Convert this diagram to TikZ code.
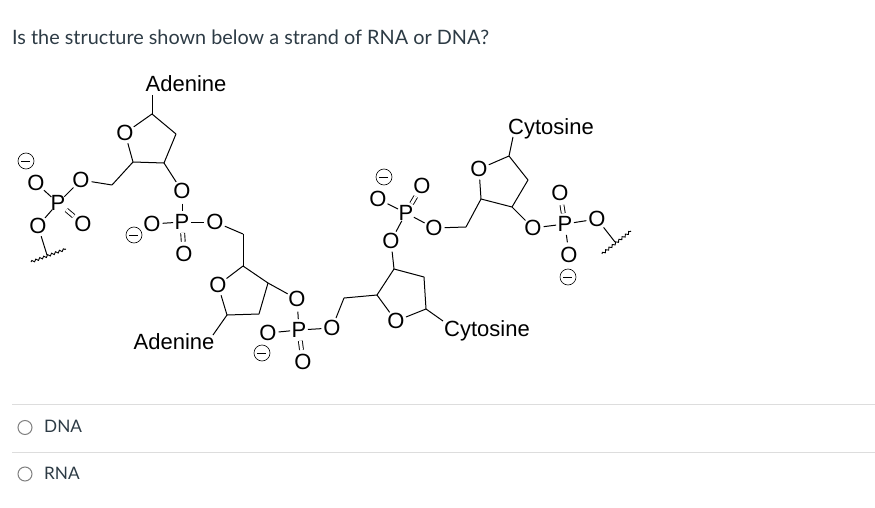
\documentclass[tikz,border=0pt]{standalone}
\usepackage{fontspec}
\setmainfont{Lato}
\newfontfamily\chemfont{Liberation Sans}
\usetikzlibrary{decorations.pathmorphing}
\definecolor{inktext}{HTML}{2D3B45}
\definecolor{rulegray}{HTML}{DDDDDD}
\tikzset{
  atom/.style={circle,inner sep=0pt,outer sep=-.8pt,font=\chemfont\fontsize{22}{24}\selectfont},
  phos/.style={atom,outer sep=-1.6pt},
  base/.style={inner sep=0pt,font=\chemfont\fontsize{22}{24}\selectfont},
  charge/.style={circle,draw,line width=.6pt,minimum size=16pt,inner sep=0pt},
  bond/.style={line width=1pt},
  upbond/.style={bond,shorten >=2pt,shorten <=2pt},
  dbond/.style={double,double distance=3pt,line width=.9pt,shorten >=1.5pt,shorten <=2pt},
  squig/.style={line width=.9pt,decorate,decoration={snake,amplitude=1.1pt,segment length=4.2pt}},
  radio/.style={circle,draw=gray,line width=1pt,minimum size=14pt,inner sep=0pt},
  answer/.style={anchor=west,inner sep=0pt,text=inktext,font=\fontsize{17.2}{20}\selectfont}
}
\begin{document}
\begin{tikzpicture}[x=1pt,y=-1pt]
  \useasboundingbox (0,0) rectangle (875,508);
  \node[anchor=west,inner sep=0pt,text=inktext,font=\fontsize{19.83}{24}\selectfont](question)at(12,37){Is the structure shown below a strand of RNA or DNA?};
  % first sugar and phosphate
  \node[base](adenineA)at(186,84){Adenine};
  \coordinate(c1a)at(152,114); \coordinate(c2a)at(176,134); \coordinate(c3a)at(164,163);
  \coordinate(c4a)at(133,162); \coordinate(c5a)at(112,185); \coordinate(endbondA)at(152,95);
  \node[atom](ora)at(125,133){O};
  \node[atom](ob)at(81,180){O};
  \node[phos](pa)at(58,203){P};
  \node[atom](oma)at(36,183){O};
  \node[atom](oea)at(38,226){O};
  \node[atom](oda)at(83,224){O};
  \node[charge](ma)at(26,161){};
  % second sugar and phosphate
  \node[atom](oc)at(182,191){O};
  \node[phos](pb)at(182,222){P};
  \node[atom](omb)at(152,224){O};
  \node[atom](oe)at(215,222){O};
  \node[atom](odb)at(184,254){O};
  \node[charge](mb)at(134,235){};
  \coordinate(c5b)at(243,234); \coordinate(c4b)at(243,266); \coordinate(c3b)at(268,283);
  \coordinate(c2b)at(259,314); \coordinate(c1b)at(227,315); \coordinate(endbondB)at(213,335);
  \node[atom](orb)at(218,285){O};
  \node[base](adenineB)at(174,342){Adenine};
  % third phosphate
  \node[atom](of)at(297,299){O};
  \node[phos](pc)at(299,330){P};
  \node[atom](omc)at(268,333){O};
  \node[atom](og)at(332,328){O};
  \node[atom](odc)at(303,362){O};
  \node[charge](mc)at(262,353){};
  % third sugar
  \coordinate(c5c)at(344,298); \coordinate(c4c)at(377,295); \coordinate(c3c)at(394,269);
  \coordinate(c2c)at(424,277); \coordinate(c1c)at(426,309); \coordinate(endbondC)at(443,321);
  \node[atom](orc)at(396,321){O};
  \node[base](cytosineA)at(487,331){Cytosine};
  % fourth phosphate and sugar
  \node[atom](oh)at(391,241){O};
  \node[phos](pd)at(406,213){P};
  \node[atom](omd)at(378,199){O};
  \node[atom](odd)at(422,186){O};
  \node[atom](oi)at(434,228){O};
  \node[charge](md)at(384,177){};
  \coordinate(c5d)at(466,227); \coordinate(c4d)at(481,199); \coordinate(c3d)at(512,207);
  \coordinate(c2d)at(528,180); \coordinate(c1d)at(509,156); \coordinate(endbondD)at(513,137);
  \node[atom](ord)at(479,169){O};
  \node[base](cytosineB)at(551,129){Cytosine};
  % last phosphate
  \node[atom](oj)at(533,228){O};
  \node[phos](pe)at(565,224){P};
  \node[atom](ode)at(560,193){O};
  \node[atom](ok)at(597,219){O};
  \node[atom](ome)at(569,255){O};
  \node[charge](me)at(568,277){};
  % chain ends
  \coordinate(tailA)at(47,255); \coordinate(waveAa)at(31,262); \coordinate(waveAb)at(66,249);
  \coordinate(tailB)at(615,242); \coordinate(waveBa)at(602,254); \coordinate(waveBb)at(631,231);
  \foreach \a/\b in {endbondA/c1a,c1a/c2a,c2a/c3a,c3a/c4a,c4a/ora,ora/c1a,c4a/c5a,c5a/ob,ob/pa,oma/pa,oea/pa,oea/tailA,
    c3a/oc,omb/pb,pb/oe,oe/c5b,c5b/c4b,c4b/c3b,c3b/c2b,c2b/c1b,c1b/orb,orb/c4b,c1b/endbondB,
    c3b/of,omc/pc,pc/og,og/c5c,c5c/c4c,c4c/c3c,c3c/c2c,c2c/c1c,c1c/orc,orc/c4c,c1c/endbondC,
    c3c/oh,oh/pd,omd/pd,pd/oi,oi/c5d,c5d/c4d,c4d/c3d,c3d/c2d,c2d/c1d,c1d/ord,ord/c4d,c1d/endbondD,
    c3d/oj,oj/pe,pe/ok,ok/tailB}
    \draw[bond](\a)--(\b);
  \foreach \a/\b in {oc/pb,of/pc,pe/ome}
    \draw[upbond](\a)--(\b);
  \foreach \a/\b in {pa/oda,pb/odb,pc/odc,pd/odd,pe/ode}
    \draw[dbond](\a)--(\b);
  \draw[squig](waveAa)--(waveAb);
  \draw[squig](waveBa)--(waveBb);
  \foreach \m in {ma,mb,mc,md,me} \draw[line width=.6pt](\m.west)++(3.5,0)--++(9,0);
  % answers
  \coordinate(rulea)at(12,404.5); \coordinate(ruleaEnd)at(875,404.5);
  \coordinate(ruleb)at(12,452.5); \coordinate(rulebEnd)at(875,452.5);
  \draw[rulegray,line width=1pt](rulea)--(ruleaEnd);
  \draw[rulegray,line width=1pt](ruleb)--(rulebEnd);
  \node[radio](dnaradio)at(25,427.5){};
  \node[radio](rnaradio)at(25,474){};
  \node[answer](dnatext)at(44,426){DNA};
  \node[answer](rnatext)at(44,473){RNA};
\end{tikzpicture}
\end{document}
